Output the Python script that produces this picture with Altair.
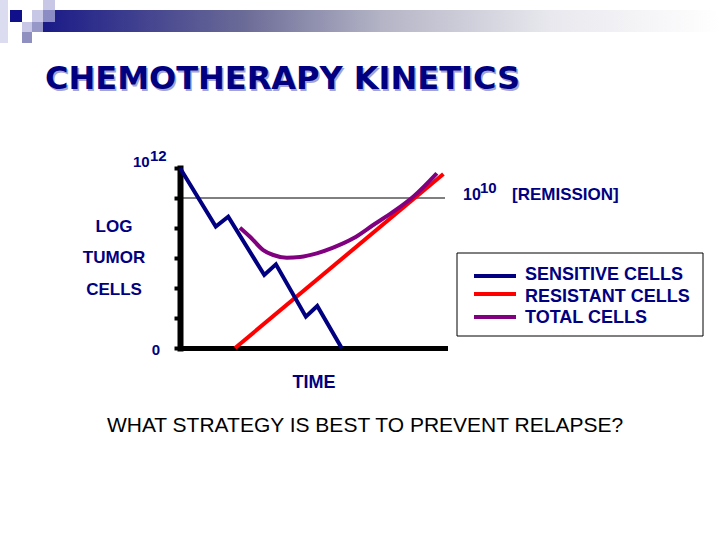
import altair as alt
import pandas as pd

# ---------------- data ----------------
sens_time = [0.0, 1.35, 1.82, 3.18, 3.62, 4.75, 5.18, 6.1]
sens_log = [12.0, 8.1, 8.75, 4.87, 5.58, 2.09, 2.8, 0.0]
res_time = [2.08, 9.94]
res_log = [0.0, 11.6]
tot_time = [2.26, 2.64, 3.14, 3.52, 4.03, 4.53, 5.16, 5.78, 6.54, 7.29, 8.05, 8.80, 9.69]
tot_log = [8.02, 7.42, 6.53, 6.2, 6.02, 6.07, 6.31, 6.69, 7.31, 8.2, 9.09, 10.09, 11.65]
remission_log = [10]
y_ticks = [0, 2, 4, 6, 8, 10, 12]
series_names = ["SENSITIVE CELLS", "RESISTANT CELLS", "TOTAL CELLS"]
series_colors = ["#000080", "#ff0000", "#800080"]

rows = []
for name, xs_, ys_ in zip(series_names, [sens_time, res_time, tot_time], [sens_log, res_log, tot_log]):
    for i, (t, v) in enumerate(zip(xs_, ys_)):
        rows.append({"series": name, "time": t, "log": v, "order": i})
df = pd.DataFrame(rows)
one = pd.DataFrame({"k": [0]})

# ---------------- layout ----------------
PX0, PY0, W, H = 180, 168, 265, 180
NAVY = "#000080"
FONT = "Liberation Sans"

xaxis = alt.Axis(domainWidth=5, domainColor="black", domainCap="square", ticks=False,
                 labels=False, grid=False, title="")
yaxis = alt.Axis(values=y_ticks, domainWidth=6, domainColor="black", domainCap="square",
                 ticks=True, tickSize=6, tickWidth=4, tickColor="black",
                 labels=False, grid=False, title="")
xs = alt.Scale(domain=[0, 10], nice=False)
ys = alt.Scale(domain=[0, 12], nice=False)


def txt(s, x, y, size, color=NAVY, weight="bold", align="left", font=FONT):
    return alt.Chart(one).mark_text(text=s, fontSize=size, font=font, fontWeight=weight,
                                    color=color, align=align, baseline="alphabetic").encode(
        x=alt.value(x - PX0), y=alt.value(y - PY0))


def box(x1, y1, x2, y2, **mark):
    return alt.Chart(one).mark_rect(**mark).encode(
        x=alt.value(x1 - PX0), x2=alt.value(x2 - PX0),
        y=alt.value(y1 - PY0), y2=alt.value(y2 - PY0))


def hline(x1, x2, y, color, width):
    return alt.Chart(one).mark_rule(color=color, strokeWidth=width).encode(
        x=alt.value(x1 - PX0), x2=alt.value(x2 - PX0), y=alt.value(y - PY0))


# ---------------- decoration ----------------
grad = alt.LinearGradient(
    gradient="linear", x1=0, x2=1, y1=0, y2=0,
    stops=[alt.GradientStop(color="#1a1a88", offset=0),
           alt.GradientStop(color="#6c6c98", offset=0.3),
           alt.GradientStop(color="#b4b4c6", offset=0.5),
           alt.GradientStop(color="#e8e8ee", offset=0.75),
           alt.GradientStop(color="#ffffff", offset=1)])
deco = [
    box(0, 0, 8, 43, color="#dcdcf0"),
    box(43, 10, 720, 32, color=grad),
    box(10, 10, 22, 22, color="#10108a"),
    box(43, 0, 55, 10, color="#c8c8e6"),
    box(32, 10, 43, 22, color="#c8c8e6"),
    box(43, 10, 55, 22, color="#8c8cc4"),
    box(22, 22, 32, 32, color="#c8c8e6"),
    box(32, 22, 43, 32, color="#9898c8"),
    box(22, 32, 32, 43, color="#9090c0"),
]

title = [
    txt("CHEMOTHERAPY KINETICS", 46.5, 90.5, 32, color="#a4a4d4", font="DejaVu Sans"),
    txt("CHEMOTHERAPY KINETICS", 45, 89, 32, color=NAVY, font="DejaVu Sans"),
]

# ---------------- plot ----------------
rem = alt.Chart(pd.DataFrame({"log": remission_log})).mark_rule(color="black", strokeWidth=1).encode(
    y=alt.Y("log:Q", scale=ys, axis=yaxis))

sens_line = alt.Chart(df[df.series == series_names[0]]).mark_line(strokeWidth=4, color=series_colors[0]).encode(
    x=alt.X("time:Q", scale=xs, axis=xaxis),
    y=alt.Y("log:Q", scale=ys, axis=yaxis),
    order="order:Q",
)
other = alt.Chart(df[df.series != series_names[0]]).mark_line(strokeWidth=4, interpolate="monotone").encode(
    x=alt.X("time:Q", scale=xs, axis=xaxis),
    y=alt.Y("log:Q", scale=ys, axis=yaxis),
    color=alt.Color("series:N", scale=alt.Scale(domain=series_names, range=series_colors), legend=None),
    order="order:Q",
)

question = alt.Chart(one).mark_text(text="WHAT STRATEGY IS BEST TO PREVENT RELAPSE?", fontSize=21,
                                    font=FONT, color="black", align="center",
                                    baseline="alphabetic").encode(
    x=alt.value(365 - PX0), y=alt.value(432 - PY0))

labels = [
    txt("10", 133, 167, 15),
    txt("12", 150, 161, 15),
    txt("0", 156, 355, 15, align="center"),
    txt("LOG", 114, 232, 17, align="center"),
    txt("TUMOR", 114, 263, 17, align="center"),
    txt("CELLS", 114, 295, 17, align="center"),
    txt("10", 463, 200, 16),
    txt("10", 480, 193, 15),
    txt("[REMISSION]", 512, 200, 17),
    txt("TIME", 314, 388, 18, align="center"),
    question,
]

legend = [
    box(457, 253, 703, 336, fill="white", stroke="black", strokeWidth=1),
    hline(474, 516, 276, series_colors[0], 4),
    hline(474, 516, 294, series_colors[1], 4),
    hline(474, 516, 317, series_colors[2], 4),
    txt(series_names[0], 525, 280, 18),
    txt(series_names[1], 525, 302, 18),
    txt(series_names[2], 525, 323, 18),
]

chart = alt.layer(*deco, *title, rem, other, sens_line, *labels, *legend).properties(
    width=W, height=H,
    autosize=alt.AutoSizeParams(type="none"),
    padding={"left": PX0, "top": PY0, "right": 720 - PX0 - W, "bottom": 540 - PY0 - H},
    background="white",
).configure_view(stroke=None)

chart.save("out.html", embed_options={"renderer": "svg", "actions": False})
